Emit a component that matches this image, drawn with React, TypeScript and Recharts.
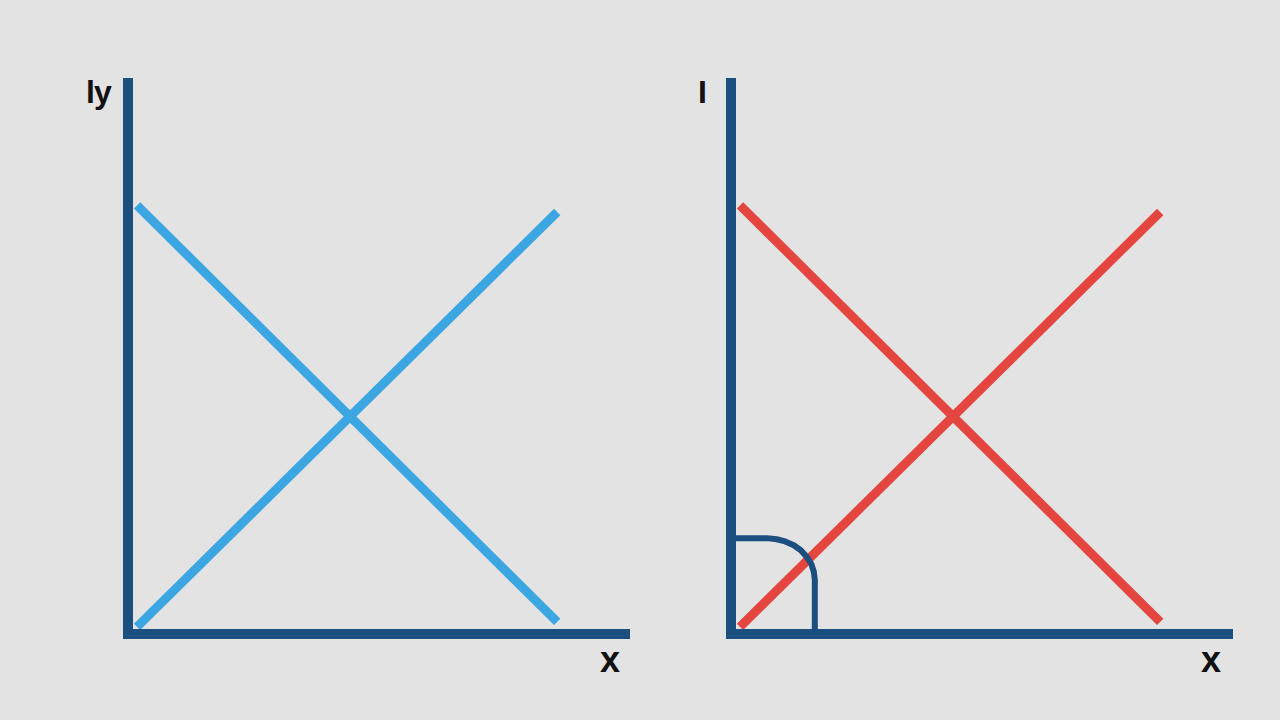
import React from "react";
import { LineChart, Line, XAxis, YAxis } from "recharts";

const AXIS = "#1b4f80";
const BLUE = "#3ba6e2";
const RED = "#e4463f";
const BG = "#e3e3e3";

const descending = [
  { x: 1.8, y: 77.8 },
  { x: 85.5, y: 2.2 },
];
const ascending = [
  { x: 1.8, y: 1.3 },
  { x: 85.5, y: 76.6 },
];
const arcPoints = [
  { x: 0, y: 17.4 },
  { x: 7.2, y: 17.4 },
  { x: 9.1, y: 17.2 },
  { x: 10.8, y: 16.8 },
  { x: 12.5, y: 16.1 },
  { x: 13.9, y: 15.2 },
  { x: 15.1, y: 14.0 },
  { x: 16.0, y: 12.7 },
  { x: 16.5, y: 11.3 },
  { x: 16.7, y: 9.8 },
  { x: 16.7, y: 0 },
];

const leftLabels = { y: "ly", x: "x" };
const rightLabels = { y: "I", x: "x" };

const margin = { top: 83, left: 127, right: 10, bottom: 85 };

function Panel({ color, showArc }: { color: string; showArc: boolean }) {
  return (
    <LineChart width={640} height={720} margin={margin}>
      <XAxis
        type="number"
        dataKey="x"
        domain={[0, 100]}
        allowDataOverflow
        height={1}
        tick={false}
        tickLine={false}
        axisLine={{ stroke: AXIS, strokeWidth: 10, strokeLinecap: "butt" }}
      />
      <YAxis
        type="number"
        dataKey="y"
        domain={[0, 100]}
        allowDataOverflow
        width={1}
        tick={false}
        tickLine={false}
        axisLine={{ stroke: AXIS, strokeWidth: 10, strokeLinecap: "square" }}
      />
      <Line
        data={descending}
        dataKey="y"
        type="linear"
        stroke={color}
        strokeWidth={9}
        dot={false}
        isAnimationActive={false}
      />
      <Line
        data={ascending}
        dataKey="y"
        type="linear"
        stroke={color}
        strokeWidth={9}
        dot={false}
        isAnimationActive={false}
      />
      {showArc && (
        <Line
          data={arcPoints}
          dataKey="y"
          type="linear"
          stroke={AXIS}
          strokeWidth={6}
          strokeLinejoin="round"
          dot={false}
          isAnimationActive={false}
        />
      )}
    </LineChart>
  );
}

const labelStyle: React.CSSProperties = {
  position: "absolute",
  fontFamily: "'Liberation Sans', Arial, sans-serif",
  fontWeight: 700,
  color: "#111",
  lineHeight: 1,
  whiteSpace: "nowrap",
};

export default function App() {
  return (
    <div
      style={{
        position: "fixed",
        left: 0,
        top: 0,
        width: 1280,
        height: 720,
        background: BG,
        overflow: "hidden",
      }}
    >
      <div style={{ position: "absolute", left: 0, top: 0 }}>
        <Panel color={BLUE} showArc={false} />
      </div>
      <div style={{ position: "absolute", left: 603, top: 0 }}>
        <Panel color={RED} showArc={true} />
      </div>
      <div style={{ ...labelStyle, left: 86, top: 76, fontSize: 32, letterSpacing: -1 }}>
        {leftLabels.y}
      </div>
      <div style={{ ...labelStyle, left: 698, top: 76, fontSize: 32 }}>{rightLabels.y}</div>
      <div style={{ ...labelStyle, left: 600, top: 642, fontSize: 36 }}>{leftLabels.x}</div>
      <div style={{ ...labelStyle, left: 1201, top: 642, fontSize: 36 }}>{rightLabels.x}</div>
    </div>
  );
}
